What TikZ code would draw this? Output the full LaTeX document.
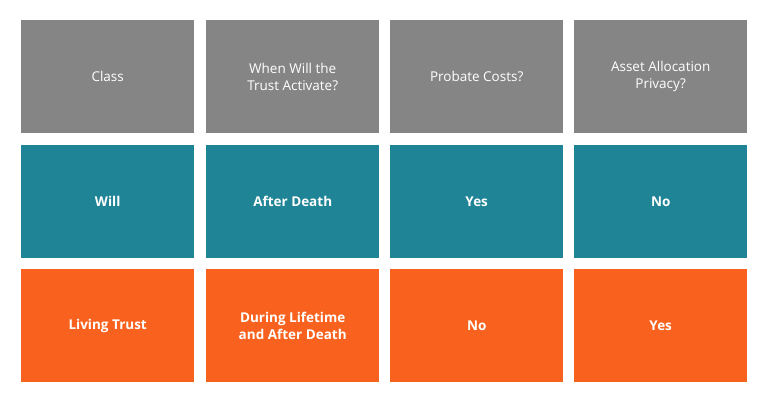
\documentclass[tikz,border=0pt]{standalone}
\usepackage{fontspec}
\setmainfont{Open Sans}
\definecolor{hgray}{HTML}{858585}
\definecolor{hteal}{HTML}{1F8496}
\definecolor{horange}{HTML}{F8621E}
\begin{document}
\begin{tikzpicture}[x=1pt,y=-1pt,
  cell/.style={minimum width=173pt,minimum height=113pt,inner sep=0pt,text=white,align=center,font=\fontsize{13.5}{17}\selectfont,anchor=north west},
  hd/.style={cell,fill=hgray},
  tl/.style={cell,fill=hteal,font=\fontsize{13.5}{17}\selectfont\bfseries},
  og/.style={cell,fill=horange,font=\fontsize{13.5}{17}\selectfont\bfseries}]
\useasboundingbox[fill=white] (0,0) rectangle (768,405);
\node[hd] (h1) at (21,20) {Class};
\node[hd] (h2) at (206,20) {When Will the\\Trust Activate?};
\node[hd] (h3) at (390,20) {Probate Costs?};
\node[hd] (h4) at (574,20) {Asset Allocation\\Privacy?};
\node[tl] (w1) at (21,145) {Will};
\node[tl] (w2) at (206,145) {After Death};
\node[tl] (w3) at (390,145) {Yes};
\node[tl] (w4) at (574,145) {No};
\node[og] (l1) at (21,269) {Living Trust};
\node[og] (l2) at (206,269) {During Lifetime\\and After Death};
\node[og] (l3) at (390,269) {No};
\node[og] (l4) at (574,269) {Yes};
\end{tikzpicture}
\end{document}
